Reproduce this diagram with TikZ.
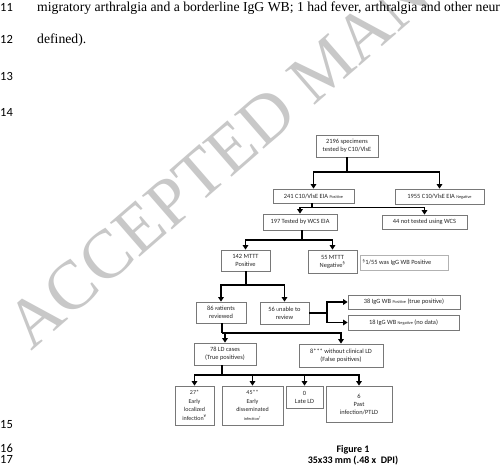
\documentclass[tikz,border=0pt]{standalone}
\usepackage{fontspec}
\setmainfont{Liberation Serif}
\newfontfamily\carl{Carlito}
\usetikzlibrary{arrows.meta}
\definecolor{wmgray}{RGB}{200,200,200}
\definecolor{boxgray}{RGB}{120,120,120}
\newcommand{\sm}[1]{{\fontsize{4.3}{5}\selectfont #1}}
\begin{document}
\begin{tikzpicture}[x=1pt,y=-1pt,
  box/.style={draw=boxgray, line width=0.7pt, fill=white, align=center, inner sep=0pt,
    font=\carl\fontsize{6.4}{8}\selectfont, text=black!85},
  link/.style={line width=1.6pt, black},
  arr/.style={link, -{Triangle[width=5.5pt,length=4.5pt]}},
  lnum/.style={anchor=base west, inner sep=0pt, font=\carl\fontsize{12.5}{12.5}\selectfont},
  body/.style={anchor=base west, inner sep=0pt, font=\fontsize{13.7}{13.7}\selectfont},
  capt/.style={anchor=base, inner sep=0pt, font=\carl\bfseries\fontsize{10}{10}\selectfont}]
\clip (0,0) rectangle (500,469);
\fill[white] (0,0) rectangle (500,469);
% watermark
\node[rotate=41, anchor=base west, inner sep=0pt, text=wmgray, font=\fontsize{69}{69}\selectfont] (wm) at (31,352) {ACCEPTED MANUSCRIPT};
% manuscript text
\node[lnum] (n11) at (0,11) {11};
\node[lnum] (n12) at (0,43) {12};
\node[lnum] (n13) at (0,80) {13};
\node[lnum] (n14) at (0,116) {14};
\node[lnum] (n15) at (0,428) {15};
\node[lnum] (n16) at (0,452) {16};
\node[lnum] (n17) at (0,463) {17};
\node[body] (t11) at (37,11) {migratory arthralgia and a borderline IgG WB; 1 had fever, arthralgia and other neurologic};
\node[body] (t12) at (37,43) {defined).};
\node[capt] (cap1) at (353,452) {Figure 1};
\node[capt] (cap2) at (353,463) {35x33 mm (.48 x \ DPI)};
% boxes
\node[box, minimum width=62pt, minimum height=22pt] (b2196) at (347,146) {2196 specimens\\tested by C10/VlsE};
\node[box, minimum width=81pt, minimum height=14pt] (b241) at (313.5,196) {241 C10/VlsE EIA \sm{Positive}};
\node[box, minimum width=89pt, minimum height=15pt] (b1955) at (439.5,196.5) {1955 C10/VlsE EIA \sm{Negative}};
\node[box, minimum width=74pt, minimum height=16pt] (b197) at (300,222) {197 Tested by WCS EIA};
\node[box, minimum width=85pt, minimum height=14pt] (b44) at (424.5,222) {44 not tested using WCS};
\node[box, minimum width=49pt, minimum height=21pt] (b142) at (245.5,260.5) {142 MTTT\\Positive};
\node[box, minimum width=49pt, minimum height=23pt] (b55) at (332.5,261.5) {55 MTTT\\Negative\textsuperscript{§}};
\node[box, draw=gray!60, line width=0.5pt, minimum width=88pt, minimum height=15pt] (bnote) at (404,262.5) {\textsuperscript{§}1/55 was IgG WB Positive\hspace*{14pt}};
\node[box, minimum width=50pt, minimum height=21pt] (b86) at (221,312.5) {86 \sm{P}atients\\reviewed};
\node[box, minimum width=49pt, minimum height=22pt] (b56) at (284.5,313) {56 \sm{U}nable to\\review};
\node[box, minimum width=112pt, minimum height=14pt] (b38) at (404,302) {38 IgG WB \sm{Positive} (true positive)};
\node[box, minimum width=111pt, minimum height=15pt] (b18) at (403.5,322.5) {18 IgG WB \sm{Negative} (no data)};
\node[box, minimum width=62pt, minimum height=22pt] (b78) at (225,354) {78 LD cases\\(True positives)};
\node[box, minimum width=84pt, minimum height=23pt] (b8) at (341,355.5) {8*** without clinical LD\\(False positives)};
\node[box, minimum width=39pt, minimum height=39pt, font=\carl\fontsize{6}{8.6}\selectfont] (b27) at (194.5,405.5) {27*\\Early\\localized\\infection\textsuperscript{¥}};
\node[box, minimum width=61pt, minimum height=39pt, font=\carl\fontsize{6}{8.6}\selectfont] (b45) at (252.5,405.5) {45**\\Early\\disseminated\\\sm{infection\textsuperscript{†}}};
\node[box, minimum width=37pt, minimum height=22pt] (b0) at (304.5,397) {0\\Late LD};
\node[box, minimum width=66pt, minimum height=36pt] (b6) at (359,404) {6\\Past\\infection/PTLD};
% connectors
\coordinate (j1) at (347,172);
\draw[link] (b2196) -- (j1);
\draw[arr] (j1) -| (b241);
\draw[arr] (j1) -| (b1955);
\coordinate (j2) at (312,207.5);
\draw[link] (b241.south -| j2) -- (j2);
\draw[arr] (j2) -| (b197);
\draw[arr] (j2) -| (b44);
\coordinate (j3) at (302,240);
\draw[link] (b197.south -| j3) -- (j3);
\draw[arr] (j3) -| (b142);
\draw[arr] (j3) -| (b55);
\coordinate (j4) at (246,285);
\draw[link] (b142.south -| j4) -- (j4);
\draw[arr] (j4) -| (b86);
\draw[arr] (j4) -| (b56);
\coordinate (j5) at (327,313);
\draw[link] (b56.east |- j5) -- (j5);
\draw[arr] (j5) |- (b38);
\draw[arr] (j5) |- (b18);
\coordinate (j6) at (222,333);
\draw[link] (b86.south -| j6) -- (j6);
\draw[arr] (j6) -| (b78);
\draw[arr] (j6) -| (b8);
\coordinate (j7) at (222,375);
\draw[link] (b78.south -| j7) -- (j7);
\draw[arr] (j7) -| (b27);
\draw[arr] (j7) -| (b45);
\draw[arr] (j7) -| (b0);
\draw[arr] (j7) -| (b6);
\end{tikzpicture}
\end{document}
